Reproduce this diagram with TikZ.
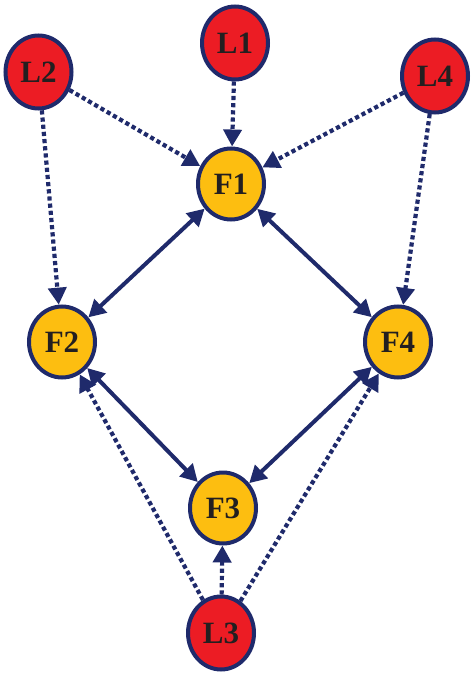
\documentclass[tikz,border=0pt]{standalone}
\usepackage{fontspec}
\setmainfont{Liberation Serif}
\usetikzlibrary{arrows.meta,shapes.geometric}
\definecolor{navy}{HTML}{1F2A6B}
\definecolor{lred}{HTML}{EC1C24}
\definecolor{fgold}{HTML}{FDBE10}
\definecolor{ink}{HTML}{231F20}
\tikzset{
  latent/.style={ellipse,draw=navy,line width=4pt,fill=lred,minimum width=66pt,minimum height=73pt,inner sep=0pt,text=ink,font=\fontsize{31}{33}\selectfont\bfseries},
  factor/.style={latent,fill=fgold,minimum height=71pt},
  link/.style={navy,line width=4.2pt,dash pattern=on 4.2pt off 3pt,-{Triangle[length=17pt,width=18pt]}},
  corr/.style={navy,line width=4pt,{Triangle[length=17pt,width=18pt]}-{Triangle[length=17pt,width=18pt]}}
}
\begin{document}
\begin{tikzpicture}[x=1pt,y=-1pt]
\useasboundingbox (0,0) rectangle (474,676);
    \node[latent] (L1) at (235,43) {L1};
    \node[latent] (L2) at (38.5,72) {L2};
    \node[latent] (L4) at (435,76) {L4};
    \node[factor] (F1) at (231,184) {F1};
    \node[factor] (F2) at (62,342) {F2};
    \node[factor] (F4) at (398,342) {F4};
    \node[factor] (F3) at (223,508) {F3};
    \node[latent] (L3) at (221,633) {L3};
    % loadings
    \draw[link] (L1) -- (F1);
    \draw[link] (L2) -- (F1);
    \draw[link] (L4) -- (F1);
    \draw[link] (L2) -- (F2);
    \draw[link] (L4) -- (F4);
    \draw[link] (L3) -- (F2);
    \draw[link] (L3) -- (F3);
    \draw[link] (L3) -- (F4);
    % correlations
    \draw[corr] (F1) -- (F2);
    \draw[corr] (F1) -- (F4);
    \draw[corr] (F2) -- (F3);
    \draw[corr] (F4) -- (F3);
\end{tikzpicture}
\end{document}
